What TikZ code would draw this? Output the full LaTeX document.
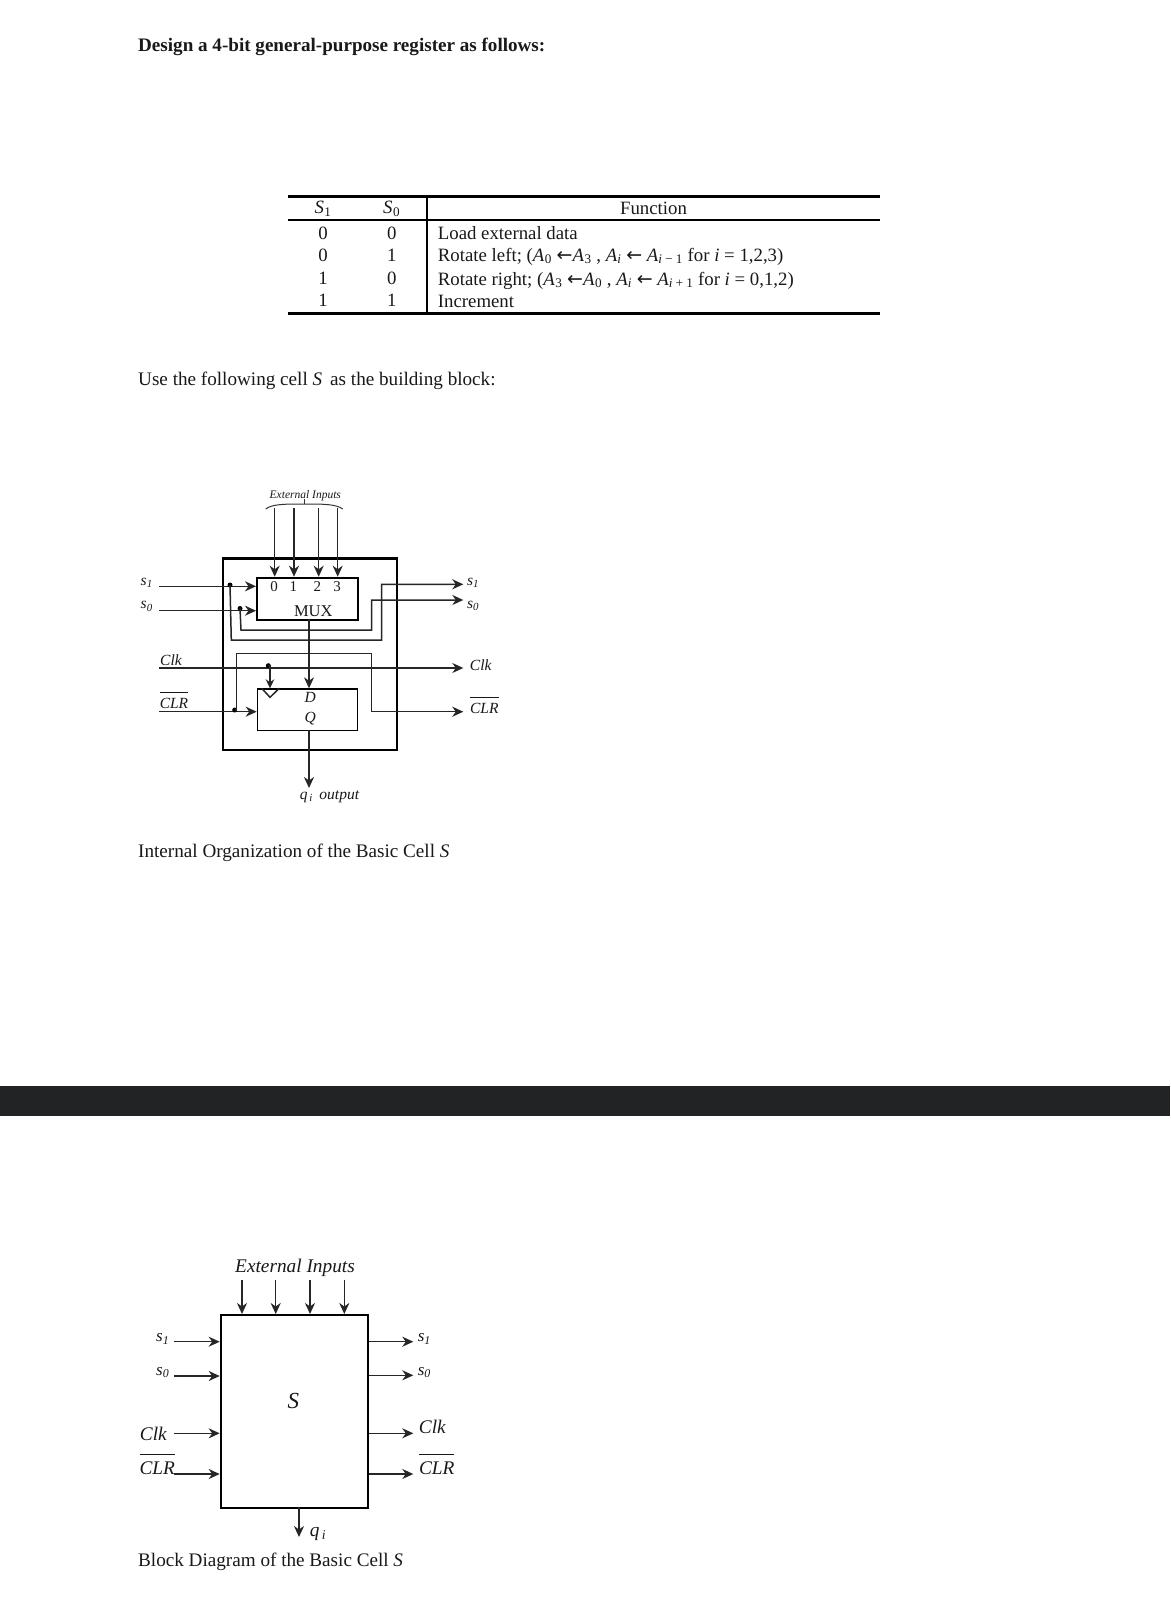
\documentclass[tikz,border=0pt]{standalone}
\usepackage{fontspec}
\setmainfont{Liberation Serif}
\newfontfamily\arrf{DejaVu Sans}
\usetikzlibrary{arrows.meta,calc}
\newcommand{\itsub}[2]{\textit{#1}\textsubscript{\textit{#2}}}
\newcommand{\ovclr}{$\overline{\hbox{\rule{0pt}{.95em}\textit{CLR}}}$}
\newcommand{\fsz}[1]{\fontsize{#1}{#1}\selectfont}
\newcommand{\larr}{{\arrf\fontsize{19}{19}\selectfont ←}}
\definecolor{band}{HTML}{212325}
\tikzset{
  wire/.style={line width=1.5pt,draw=black!85},
  arr/.style={wire,-{Stealth[length=11pt,width=10pt,inset=3.5pt]}},
  arrs/.style={wire,-{Stealth[length=9pt,width=8.5pt,inset=3pt]}},
  box/.style={draw=black,anchor=north west,inner sep=0pt,fill=none},
  jdot/.style={circle,fill=black,inner sep=0pt,minimum size=5pt},
  tx/.style={inner sep=0pt,text=black!90},
  rulet/.style={line width=3pt,black},
  rules/.style={line width=2pt,black},
  cell/.style={tx,font=\fsz{18.8}},
  lbl/.style={tx,font=\fsz{15.5}\itshape},
  lblb/.style={tx,font=\fsz{19.3}\itshape}
}
\begin{document}
\begin{tikzpicture}[x=1pt,y=-1pt]
\useasboundingbox (0,0) rectangle (1170,1603);
\fill[white] (0,0) rectangle (1170,1603);

% heading and captions
\node[tx,anchor=base west,font=\fsz{19.1}\bfseries] (title) at (138,52) {Design a 4-bit general-purpose register as follows:};
\node[tx,anchor=base west,font=\fsz{19.15}] (use) at (138,385) {Use the following cell \textit{S}\, as the building block:};
\node[tx,anchor=base west,font=\fsz{19.15}] (cap1) at (138,857) {Internal Organization of the Basic Cell \textit{S}};
\node[tx,anchor=base west,font=\fsz{19.15}] (cap2) at (138,1566) {Block Diagram of the Basic Cell \textit{S}};

% table
\coordinate (tl) at (288,196); \coordinate (tr) at (880,196);
\draw[rulet] (tl) -- (tr);
\draw[rules] (288,219.5) -- (880,219.5);
\draw[rulet] (288,313) -- (880,313);
\draw[line width=2pt] (426.5,196) -- (426.5,313);
\node[cell] (h1) at (323,208.5) {\itsub{S}{}\textsubscript{1}};
\node[cell] (h0) at (391.7,208.5) {\itsub{S}{}\textsubscript{0}};
\node[cell] (hf) at (653.5,208.5) {Function};
\foreach \n/\y/\a/\b in {a/233/0/0,b/255/0/1,c/278/1/0,d/300.5/1/1}{
  \node[cell] (r\n1) at (323,\y) {\a};
  \node[cell] (r\n0) at (391.7,\y) {\b};
}
\node[cell,anchor=base west] (fa) at (437.7,239) {Load external data};
\node[cell,anchor=base west] (fb) at (437.7,261) {Rotate left; (\itsub{A}{}\textsubscript{0} \larr\itsub{A}{}\textsubscript{3} , \itsub{A}{i} \larr\ \itsub{A}{i\,−\,}\textsubscript{1} for \textit{i} = 1,2,3)};
\node[cell,anchor=base west] (fc) at (437.7,285) {Rotate right; (\itsub{A}{}\textsubscript{3} \larr\itsub{A}{}\textsubscript{0} , \itsub{A}{i} \larr\ \itsub{A}{i\,+\,}\textsubscript{1} for \textit{i} = 0,1,2)};
\node[cell,anchor=base west] (fd) at (437.7,307) {Increment};

% internal organization
\node[box,line width=2.2pt,minimum width=174pt,minimum height=191.7pt] (outer) at (221.8,557.3) {};
\node[box,line width=2pt,minimum width=101pt,minimum height=42pt] (mux) at (256,576.7) {};
\node[box,line width=1.4pt,minimum width=100.3pt,minimum height=41.7pt] (ff) at (256.7,688.3) {};
\node[tx,font=\fsz{16.5}] (muxt) at (313.3,611) {MUX};
\node[tx,font=\fsz{15.5}\itshape] (dt) at (310.3,697.5) {D};
\node[tx,font=\fsz{15.5}\itshape] (qt) at (310.3,718.5) {Q};
\foreach \i/\x/\d in {0/274.7/274,1/294/293.3,2/318.7/317.3,3/337.7/337}{
  \coordinate (ext\i) at (\x,508);
  \coordinate (min\i) at (\x,576.7);
  \draw[arr] (ext\i) -- (min\i);
  \node[tx,font=\fsz{15}] (dig\i) at (\d,587) {\i};
}
\node[tx,font=\fsz{11.5}\itshape] (extl) at (305.3,496) {External Inputs};
\coordinate (bl) at (265.7,509); \coordinate (br) at (342.7,509);
\coordinate (bt) at (304,499);
\draw[line width=1pt,black!80] (bl) .. controls (272,504) and (285,504) .. (304,504) .. controls (323,504) and (336,504) .. (br);
\draw[line width=1pt,black!80] (bt) -- (304,504);

% left ends and right ends
\coordinate (ls1) at (159.3,586.3); \coordinate (ls0) at (159.3,610.7);
\coordinate (lck) at (159.3,668);   \coordinate (lcl) at (159.3,711.7);
\coordinate (rs1) at (463.3,584.3); \coordinate (rs0) at (463.3,600);
\coordinate (rck) at (463.3,668);   \coordinate (rcl) at (463.3,711.7);
\draw[arr] (ls1) -- (ls1 -| mux.west);
\draw[arr] (ls0) -- (ls0 -| mux.west);
\draw[arr] (lck) -- (rck);
\draw[arr] (lcl) -- (lcl -| ff.west);
\node[jdot] (js1) at (230,585) {};
\node[jdot] (js0) at (240,608.5) {};
\node[jdot] (jck) at (268.3,665.7) {};
\node[jdot] (jcl) at (234.7,710) {};
\draw[arr] (js1.center) -- (231.3,640) -- (381.7,640) -- (381.7,584.3) -- (rs1);
\draw[arr] (js0.center) -- (241,630) -- (371.7,630) -- (371.7,600) -- (rs0);
\draw[arrs] (jck.center) -- (270,665.7) -- (270,688.3);
\draw[arr] (jcl.center) -- (236.3,710) -- (236.3,653.7) -- (371.7,653.7) -- (371.7,711.7) -- (rcl);
\coordinate (ta) at (261.7,688.3); \coordinate (tb) at (270,697.3); \coordinate (tc) at (279.3,688.3);
\draw[wire] (ta) -- (tb) -- (tc);
\coordinate (mo) at (309,618.7); \coordinate (di) at (309,688.3);
\coordinate (qo) at (309,730); \coordinate (qe) at (309,788);
\draw[arr] (mo) -- (di);
\draw[arr] (qo) -- (qe);

\node[lbl] (a1) at (146.7,583) {\itsub{s}{1}};
\node[lbl] (a2) at (146.7,606.5) {\itsub{s}{0}};
\node[lbl] (a3) at (171,660) {Clk};
\node[lbl] (a4) at (174,700.5) {\ovclr};
\node[lbl] (a5) at (473,582.7) {\itsub{s}{1}};
\node[lbl] (a6) at (473,606) {\itsub{s}{0}};
\node[lbl] (a7) at (480.7,665) {Clk};
\node[lbl] (a8) at (484.3,705) {\ovclr};
\node[lbl] (a9) at (329.5,797) {\itsub{q}{\,i}\ \,output};

% dark band
\fill[band] (0,1086) rectangle (1170,1115.5);

% block diagram
\node[box,line width=1.8pt,minimum width=147pt,minimum height=193pt] (blk) at (219.7,1314) {};
\node[lblb,font=\fsz{23}\itshape] (bs) at (293.3,1401) {S};
\node[lblb] (bext) at (295,1267.5) {External Inputs};
\foreach \i/\x in {0/242,1/275.7,2/310,3/344.3}{
  \coordinate (be\i) at (\x,1279.5);
  \draw[arr] (be\i) -- (be\i |- blk.north);
}
\foreach \n/\y/\yy in {a/1341.7/1341.7,b/1376/1375.3,c/1433.3/1433.3,d/1474/1474}{
  \coordinate (bl\n) at (174,\y);
  \coordinate (br\n) at (413.3,\yy);
  \draw[arr] (bl\n) -- (bl\n -| blk.west);
  \draw[arr] (br\n -| blk.east) -- (br\n);
}
\coordinate (bqo) at (299,1507); \coordinate (bqe) at (299,1537);
\draw[arr] (bqo) -- (bqe);
\node[lblb,font=\fsz{17}\itshape] (c1) at (162.7,1339) {\itsub{s}{1}};
\node[lblb,font=\fsz{17}\itshape] (c2) at (162.7,1372.5) {\itsub{s}{0}};
\node[lblb] (c3) at (153.3,1434) {Clk};
\node[lblb] (c4) at (157.3,1464) {\ovclr};
\node[lblb,font=\fsz{17}\itshape] (c5) at (424.3,1339) {\itsub{s}{1}};
\node[lblb,font=\fsz{17}\itshape] (c6) at (424.3,1372.5) {\itsub{s}{0}};
\node[lblb] (c7) at (432.3,1427) {Clk};
\node[lblb] (c8) at (436.7,1464) {\ovclr};
\node[lblb] (c9) at (318,1534) {\itsub{q}{\,i}};
\end{tikzpicture}
\end{document}
